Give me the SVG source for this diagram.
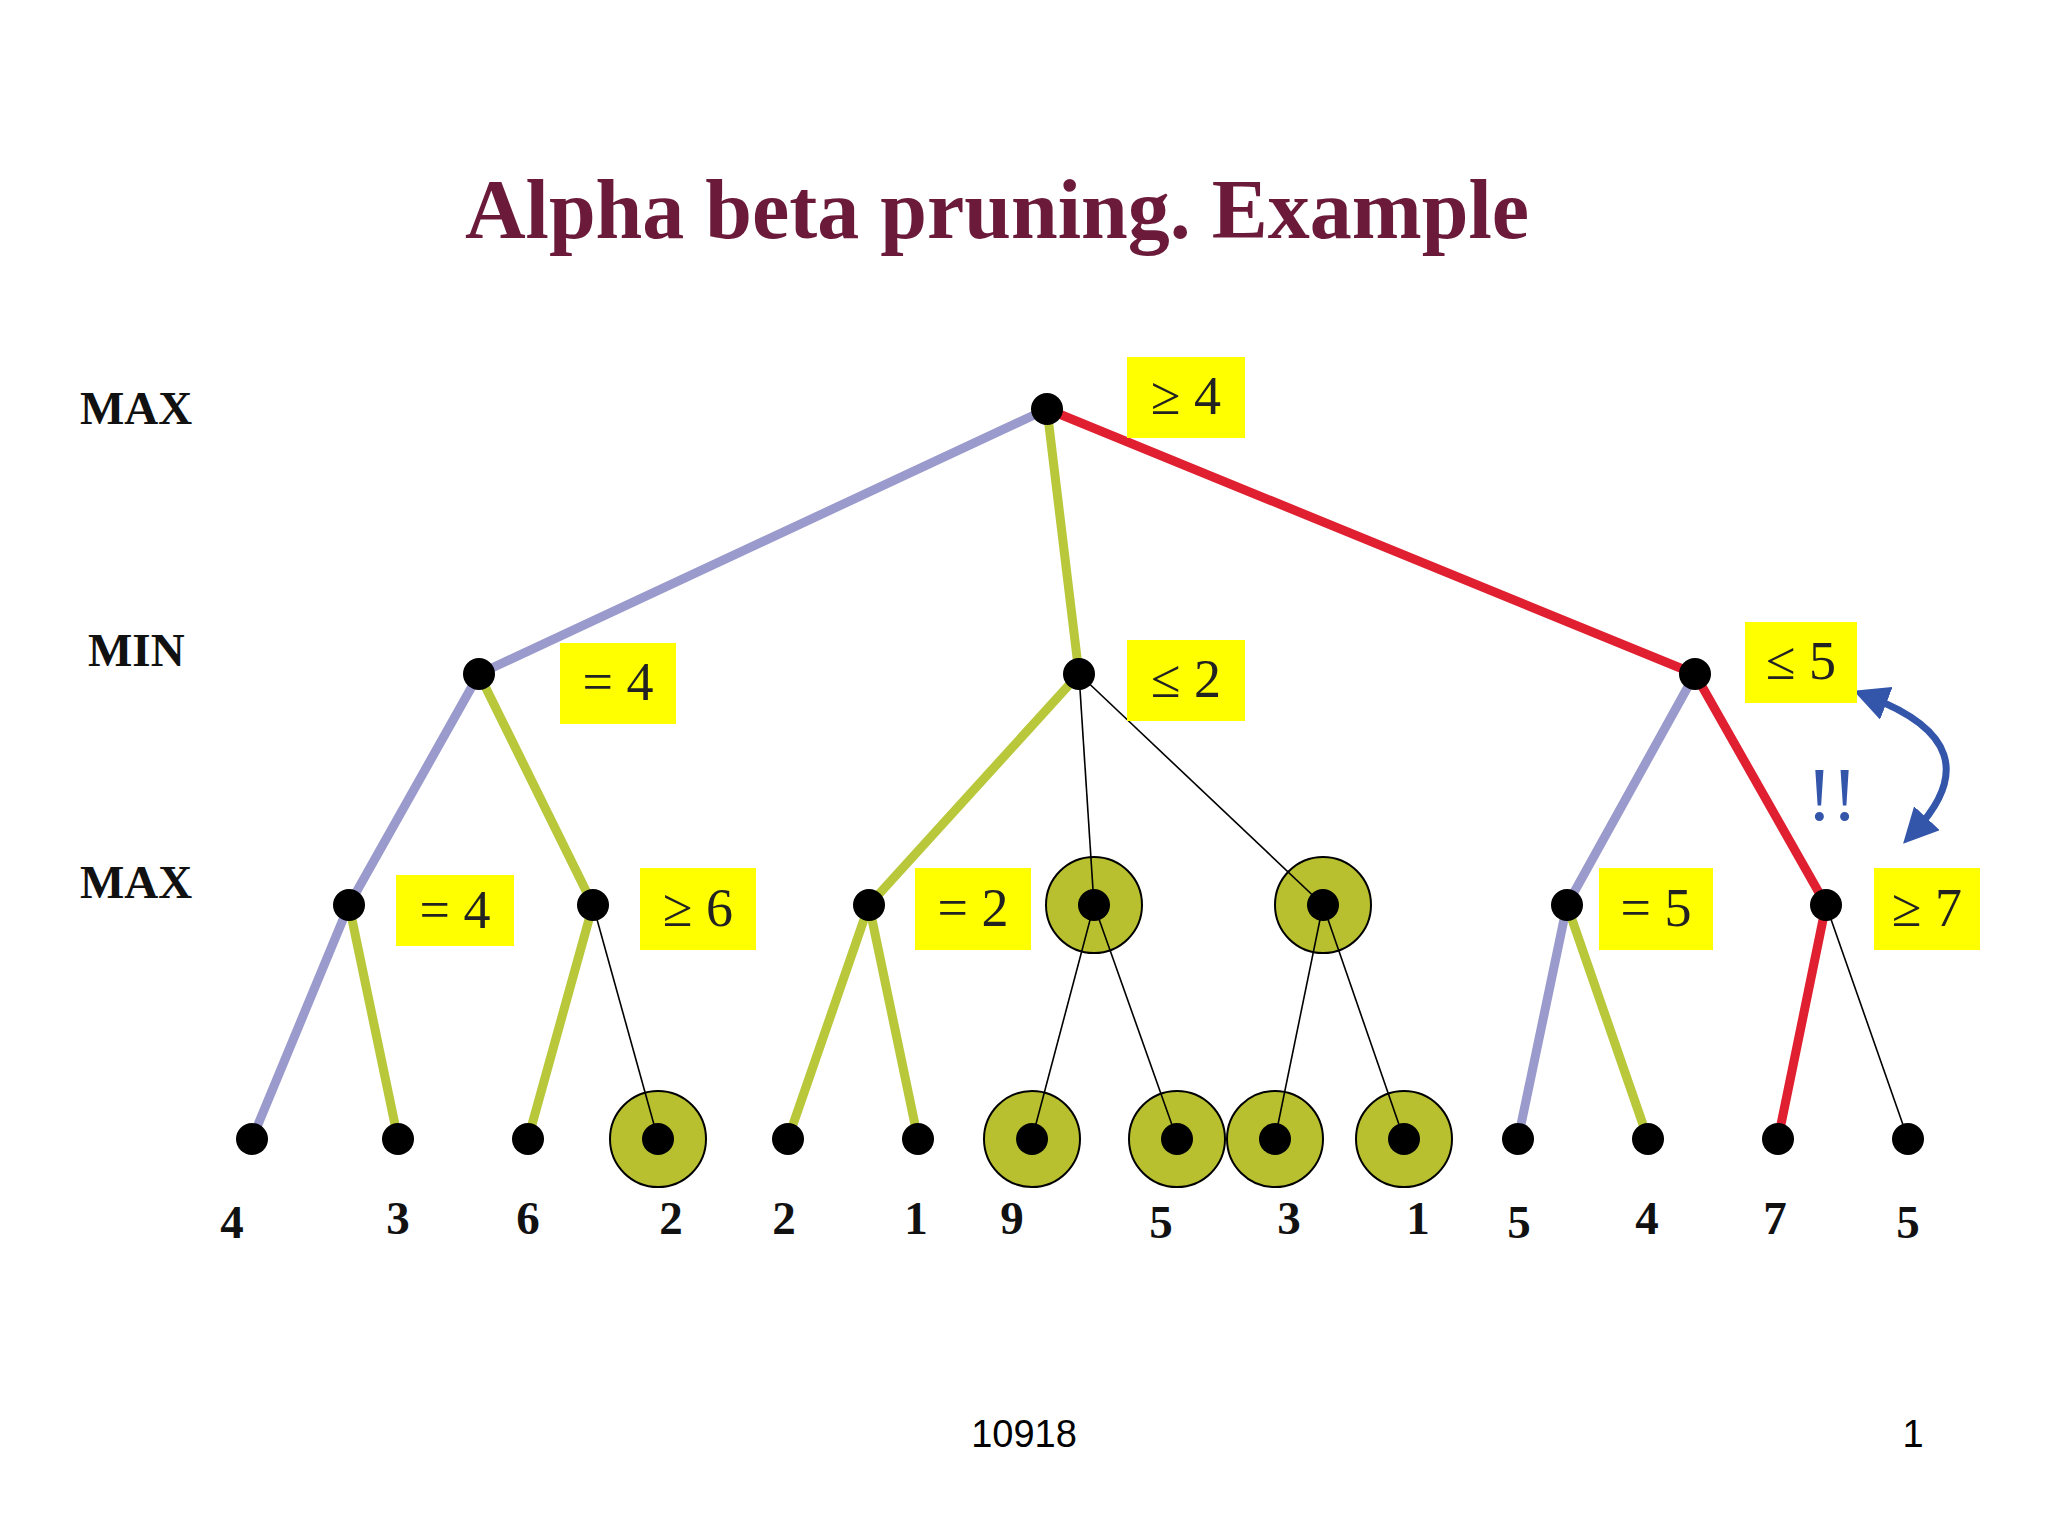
<svg xmlns="http://www.w3.org/2000/svg" width="2048" height="1536" viewBox="0 0 2048 1536">
<style>
.s{font-family:"Liberation Serif","Times New Roman",serif}
.lv{font-size:47px;font-weight:bold;fill:#111}
.lf{font-size:47px;font-weight:bold;fill:#111;text-anchor:middle}
.bx{fill:#ffff00}
.bt{font-size:54px;fill:#222;text-anchor:middle}
.n{fill:#000}
.h{fill:#b8c030;stroke:#000;stroke-width:2}
.p{stroke:#9a9acc;stroke-width:9;stroke-linecap:round}
.g{stroke:#b8c83a;stroke-width:9;stroke-linecap:round}
.r{stroke:#e02030;stroke-width:9;stroke-linecap:round}
.t{stroke:#000;stroke-width:1.6}
</style>
<defs><marker id="ah" viewBox="0 0 10 10" refX="5" refY="5" markerWidth="5" markerHeight="5" orient="auto-start-reverse"><path d="M0,0L10,5L0,10z" fill="#3355aa"/></marker></defs>
<rect width="2048" height="1536" fill="#fff"/>
<text class="s" x="997" y="238" font-size="84" font-weight="bold" fill="#6b1a3a" text-anchor="middle">Alpha beta pruning. Example</text>
<text class="s lv" x="80" y="424">MAX</text>
<text class="s lv" x="88" y="666">MIN</text>
<text class="s lv" x="80" y="898">MAX</text>
<g id="highlights">
<circle class="h" cx="1094" cy="905" r="48"/><circle class="h" cx="1323" cy="905" r="48"/>
<circle class="h" cx="658" cy="1139" r="48"/><circle class="h" cx="1032" cy="1139" r="48"/>
<circle class="h" cx="1177" cy="1139" r="48"/><circle class="h" cx="1275" cy="1139" r="48"/>
<circle class="h" cx="1404" cy="1139" r="48"/>
</g>
<g id="connectors">
<line class="p" x1="1047" y1="409" x2="479" y2="674"/>
<line class="g" x1="1047" y1="409" x2="1079" y2="674"/>
<line class="r" x1="1047" y1="409" x2="1695" y2="674"/>
<line class="p" x1="479" y1="674" x2="349" y2="905"/>
<line class="g" x1="479" y1="674" x2="593" y2="905"/>
<line class="p" x1="349" y1="905" x2="252" y2="1139"/>
<line class="g" x1="349" y1="905" x2="398" y2="1139"/>
<line class="g" x1="593" y1="905" x2="528" y2="1139"/>
<line class="t" x1="593" y1="905" x2="658" y2="1139"/>
<line class="g" x1="1079" y1="674" x2="869" y2="905"/>
<line class="t" x1="1079" y1="674" x2="1094" y2="905"/>
<line class="t" x1="1079" y1="674" x2="1323" y2="905"/>
<line class="g" x1="869" y1="905" x2="788" y2="1139"/>
<line class="g" x1="869" y1="905" x2="918" y2="1139"/>
<line class="t" x1="1094" y1="905" x2="1032" y2="1139"/>
<line class="t" x1="1094" y1="905" x2="1177" y2="1139"/>
<line class="t" x1="1323" y1="905" x2="1275" y2="1139"/>
<line class="t" x1="1323" y1="905" x2="1404" y2="1139"/>
<line class="p" x1="1695" y1="674" x2="1567" y2="905"/>
<line class="r" x1="1695" y1="674" x2="1826" y2="905"/>
<line class="p" x1="1567" y1="905" x2="1518" y2="1139"/>
<line class="g" x1="1567" y1="905" x2="1648" y2="1139"/>
<line class="r" x1="1826" y1="905" x2="1778" y2="1139"/>
<line class="t" x1="1826" y1="905" x2="1908" y2="1139"/>
<path d="M1870,697 Q1995,745 1915,831" fill="none" stroke="#3355aa" stroke-width="7" marker-start="url(#ah)" marker-end="url(#ah)"/>
</g>
<g id="nodes">
<circle class="n" cx="1047" cy="409" r="16"/>
<circle class="n" cx="479" cy="674" r="16"/><circle class="n" cx="1079" cy="674" r="16"/><circle class="n" cx="1695" cy="674" r="16"/>
<circle class="n" cx="349" cy="905" r="16"/><circle class="n" cx="593" cy="905" r="16"/><circle class="n" cx="869" cy="905" r="16"/><circle class="n" cx="1094" cy="905" r="16"/><circle class="n" cx="1323" cy="905" r="16"/><circle class="n" cx="1567" cy="905" r="16"/><circle class="n" cx="1826" cy="905" r="16"/>
<circle class="n" cx="252" cy="1139" r="16"/><circle class="n" cx="398" cy="1139" r="16"/><circle class="n" cx="528" cy="1139" r="16"/><circle class="n" cx="658" cy="1139" r="16"/><circle class="n" cx="788" cy="1139" r="16"/><circle class="n" cx="918" cy="1139" r="16"/><circle class="n" cx="1032" cy="1139" r="16"/><circle class="n" cx="1177" cy="1139" r="16"/><circle class="n" cx="1275" cy="1139" r="16"/><circle class="n" cx="1404" cy="1139" r="16"/><circle class="n" cx="1518" cy="1139" r="16"/><circle class="n" cx="1648" cy="1139" r="16"/><circle class="n" cx="1778" cy="1139" r="16"/><circle class="n" cx="1908" cy="1139" r="16"/>
</g>
<g id="leaf-values" class="s">
<text class="lf" x="232" y="1238">4</text><text class="lf" x="398" y="1234">3</text><text class="lf" x="528" y="1234">6</text><text class="lf" x="671" y="1234">2</text><text class="lf" x="784" y="1234">2</text><text class="lf" x="916" y="1234">1</text><text class="lf" x="1012" y="1234">9</text><text class="lf" x="1161" y="1238">5</text><text class="lf" x="1289" y="1234">3</text><text class="lf" x="1418" y="1234">1</text><text class="lf" x="1519" y="1238">5</text><text class="lf" x="1647" y="1234">4</text><text class="lf" x="1775" y="1234">7</text><text class="lf" x="1908" y="1238">5</text>
</g>
<g id="labels" class="s">
<rect class="bx" x="1127" y="357" width="118" height="81"/><text class="bt" x="1186" y="414">≥ 4</text>
<rect class="bx" x="560" y="643" width="116" height="81"/><text class="bt" x="618" y="700">= 4</text>
<rect class="bx" x="1127" y="640" width="118" height="81"/><text class="bt" x="1186" y="697">≤ 2</text>
<rect class="bx" x="1745" y="622" width="112" height="81"/><text class="bt" x="1801" y="679">≤ 5</text>
<rect class="bx" x="396" y="875" width="118" height="71"/><text class="bt" x="455" y="928">= 4</text>
<rect class="bx" x="640" y="868" width="116" height="82"/><text class="bt" x="698" y="926">≥ 6</text>
<rect class="bx" x="915" y="868" width="116" height="82"/><text class="bt" x="973" y="926">= 2</text>
<rect class="bx" x="1599" y="868" width="114" height="82"/><text class="bt" x="1656" y="926">= 5</text>
<rect class="bx" x="1874" y="868" width="106" height="82"/><text class="bt" x="1927" y="926">≥ 7</text>
<text x="1832" y="820" font-size="76" fill="#3355aa" text-anchor="middle">!!</text>
</g>
<text x="1024" y="1447" font-family="Liberation Sans,Arial,sans-serif" font-size="38" text-anchor="middle" fill="#000">10918</text>
<text x="1913" y="1447" font-family="Liberation Sans,Arial,sans-serif" font-size="38" text-anchor="middle" fill="#000">1</text>
</svg>
